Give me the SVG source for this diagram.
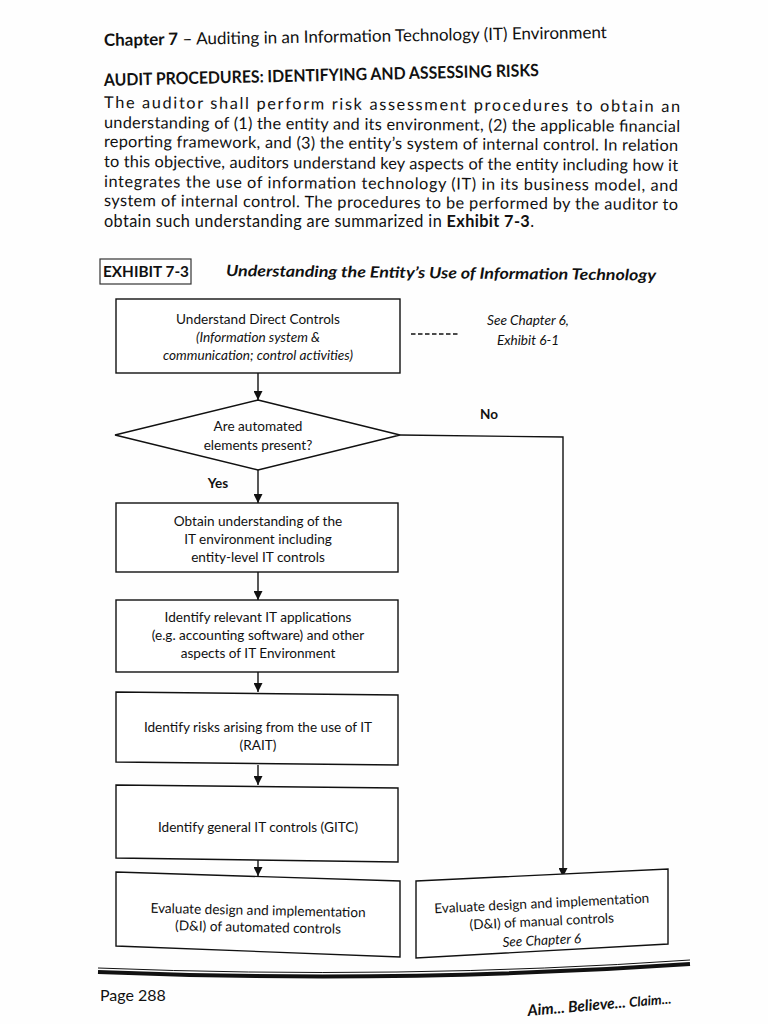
<svg xmlns="http://www.w3.org/2000/svg" width="768" height="1024" viewBox="0 0 768 1024">
<style>
  text { font-family: Lato, "Open Sans", "Liberation Sans", sans-serif; fill: #111; }
  .hdr { font-size: 17px; }
  .para { font-size: 16.3px; }
  .fc { font-size: 13.6px; text-anchor: middle; }
  .it { font-style: italic; }
  .b { font-weight: bold; }
  .box { fill: #fff; stroke: #111; stroke-width: 1.4; }
  .conn { fill: none; stroke: #111; stroke-width: 1.4; }
</style>
<defs>
  <marker id="arr" viewBox="0 0 10 10" refX="10" refY="5" markerWidth="10" markerHeight="9" orient="auto" markerUnits="userSpaceOnUse">
    <path d="M0,0 L10,5 L0,10 z" fill="#111"/>
  </marker>
</defs>
<rect width="768" height="1024" fill="#fefefe"/>

<g id="header">
  <text class="hdr" x="104" y="46" textLength="503" lengthAdjust="spacing" transform="rotate(-0.9 104 46)"><tspan class="b">Chapter 7</tspan> – Auditing in an Information Technology (IT) Environment</text>
  <text class="hdr b" x="104" y="86" font-size="16.5" textLength="435" lengthAdjust="spacingAndGlyphs" transform="rotate(-1.3 104 86)">AUDIT PROCEDURES: IDENTIFYING AND ASSESSING RISKS</text>
</g>

<g id="paragraph">
  <text class="para" x="104" y="108" textLength="576" lengthAdjust="spacing" transform="rotate(0.4 104 108)">The auditor shall perform risk assessment procedures to obtain an</text>
  <text class="para" x="104" y="128" textLength="576" lengthAdjust="spacing" transform="rotate(0.4 104 128)">understanding of (1) the entity and its environment, (2) the applicable financial</text>
  <text class="para" x="104" y="147" textLength="574" lengthAdjust="spacing" transform="rotate(0.4 104 147)">reporting framework, and (3) the entity’s system of internal control. In relation</text>
  <text class="para" x="104" y="167" textLength="574" lengthAdjust="spacing" transform="rotate(0.4 104 167)">to this objective, auditors understand key aspects of the entity including how it</text>
  <text class="para" x="104" y="187" textLength="574" lengthAdjust="spacing" transform="rotate(0.4 104 187)">integrates the use of information technology (IT) in its business model, and</text>
  <text class="para" x="104" y="206" textLength="574" lengthAdjust="spacing" transform="rotate(0.4 104 206)">system of internal control. The procedures to be performed by the auditor to</text>
  <text class="para" x="104" y="227" textLength="430" lengthAdjust="spacing">obtain such understanding are summarized in <tspan class="b">Exhibit 7-3</tspan>.</text>
</g>

<g id="exhibit-title">
  <rect x="100" y="259" width="91" height="25" fill="none" stroke="#333" stroke-width="1.2"/>
  <text x="103" y="277" font-size="15" class="b" textLength="86" lengthAdjust="spacingAndGlyphs">EXHIBIT 7-3</text>
  <text x="226" y="276" font-size="15.5" class="b it" textLength="430" lengthAdjust="spacingAndGlyphs" transform="rotate(0.6 226 276)">Understanding the Entity’s Use of Information Technology</text>
</g>

<g id="connectors">
  <line class="conn" x1="258" y1="373" x2="258" y2="400" marker-end="url(#arr)"/>
  <line class="conn" x1="258" y1="470" x2="258" y2="503" marker-end="url(#arr)"/>
  <line class="conn" x1="258" y1="572" x2="258" y2="600" marker-end="url(#arr)"/>
  <line class="conn" x1="258" y1="672" x2="258" y2="692" marker-end="url(#arr)"/>
  <line class="conn" x1="258" y1="765" x2="258" y2="785" marker-end="url(#arr)"/>
  <line class="conn" x1="258" y1="859" x2="258" y2="876" marker-end="url(#arr)"/>
  <polyline class="conn" points="400,435 563,437 563,877" marker-end="url(#arr)"/>
  <line x1="411" y1="334" x2="458" y2="334" stroke="#111" stroke-width="1.6" stroke-dasharray="4.5 2.5"/>
  <text x="489" y="419" font-size="13.5" class="b" text-anchor="middle">No</text>
  <text x="218" y="488" font-size="13.5" class="b" text-anchor="middle">Yes</text>
</g>

<g id="node-direct-controls">
  <rect class="box" x="116" y="299" width="284" height="74"/>
  <text class="fc" x="258" y="324">Understand Direct Controls</text>
  <text class="fc it" x="258" y="342">(Information system &amp;</text>
  <text class="fc it" x="258" y="360">communication; control activities)</text>
</g>

<g id="note-chapter6">
  <text class="fc it" x="528" y="325">See Chapter 6,</text>
  <text class="fc it" x="528" y="345">Exhibit 6-1</text>
</g>

<g id="node-decision">
  <polygon class="box" points="258,400 400,435 258,470 115,435"/>
  <text class="fc" x="258" y="431">Are automated</text>
  <text class="fc" x="258" y="450">elements present?</text>
</g>

<g id="node-it-environment">
  <rect class="box" x="116" y="503" width="282" height="69"/>
  <text class="fc" x="258" y="526">Obtain understanding of the</text>
  <text class="fc" x="258" y="544">IT environment including</text>
  <text class="fc" x="258" y="562">entity-level IT controls</text>
</g>

<g id="node-it-applications">
  <rect class="box" x="116" y="600" width="282" height="72"/>
  <text class="fc" x="258" y="622">Identify relevant IT applications</text>
  <text class="fc" x="258" y="640">(e.g. accounting software) and other</text>
  <text class="fc" x="258" y="658">aspects of IT Environment</text>
</g>

<g id="node-rait">
  <polygon class="box" points="116,692 398,695 398,765 116,762"/>
  <text class="fc" x="258" y="732">Identify risks arising from the use of IT</text>
  <text class="fc" x="258" y="750">(RAIT)</text>
</g>

<g id="node-gitc">
  <polygon class="box" points="116,785 398,788 398,862 116,858"/>
  <text class="fc" x="258" y="832">Identify general IT controls (GITC)</text>
</g>

<g id="node-automated">
  <polygon class="box" points="116,872 400,881 400,957 116,946"/>
  <text class="fc" x="258" y="915" transform="rotate(1.2 258 915)">Evaluate design and implementation</text>
  <text class="fc" x="258" y="932" transform="rotate(1.2 258 932)">(D&amp;I) of automated controls</text>
</g>

<g id="node-manual">
  <polygon class="box" points="416,881 668,869 668,944 416,958"/>
  <text class="fc" x="542" y="908" transform="rotate(-2.8 542 908)">Evaluate design and implementation</text>
  <text class="fc" x="542" y="926" transform="rotate(-2.8 542 926)">(D&amp;I) of manual controls</text>
  <text class="fc it" x="542" y="945" transform="rotate(-2.8 542 945)">See Chapter 6</text>
</g>

<g id="footer">
  <path d="M98,972 Q400,984 690,964" fill="none" stroke="#111" stroke-width="4"/>
  <path d="M98,968 Q400,980 690,960" fill="none" stroke="#111" stroke-width="1"/>
  <text x="100" y="1001" font-size="16">Page 288</text>
  <text x="528" y="1016" font-size="15.5" class="b it" transform="rotate(-5 528 1016)">Aim... Believe... <tspan font-size="13.5">Claim...</tspan></text>
</g>
</svg>
